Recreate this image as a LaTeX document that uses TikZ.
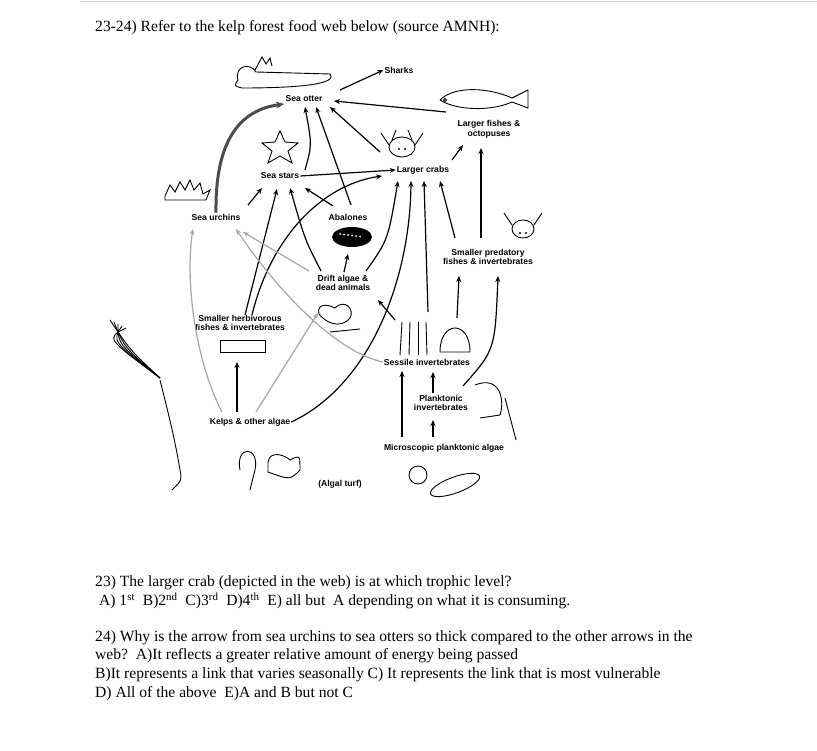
\documentclass[tikz,border=0pt]{standalone}
\usepackage{fontspec}
\setmainfont{Liberation Serif}
\newfontfamily\lab{Liberation Sans}
\usetikzlibrary{arrows.meta}
\begin{document}
\begin{tikzpicture}[x=1pt,y=-1pt,
 lbl/.style={font=\lab\bfseries\fontsize{8.6}{9.6}\selectfont,align=center,inner sep=1pt},
 q/.style={font=\fontsize{15.6}{18}\selectfont,anchor=west,inner sep=0pt},
 ar/.style={-{Stealth[length=6pt,width=5pt]},line width=1.2pt},
 gar/.style={ar,gray!70},
 ic/.style={line width=0.9pt}]
\useasboundingbox (0,0) rectangle (817,751);
\fill[white] (0,0) rectangle (817,751);
\draw[gray!40,line width=1pt] (80,1.5) -- (817,1.5);
\node[q] (t) at (95,28) {23-24) Refer to the kelp forest food web below (source AMNH):};
% labels
\node[lbl] (sh) at (399,70) {Sharks};
\node[lbl] (so) at (304,99) {Sea otter};
\node[lbl] (lf) at (489,129) {Larger fishes \&\\octopuses};
\node[lbl] (ss) at (280,176) {Sea stars};
\node[lbl] (lc) at (423,170) {Larger crabs};
\node[lbl] (su) at (216,217) {Sea urchins};
\node[lbl] (ab) at (348,217) {Abalones};
\node[lbl] (sp) at (488,257) {Smaller predatory\\fishes \& invertebrates};
\node[lbl] (da) at (343,283) {Drift algae \&\\dead animals};
\node[lbl] (sm) at (240,323) {Smaller herbivorous\\fishes \& invertebrates};
\node[lbl] (si) at (427,362) {Sessile invertebrates};
\node[lbl] (pi) at (441,403) {Planktonic\\invertebrates};
\node[lbl] (ke) at (250,422) {Kelps \& other algae};
\node[lbl] (mi) at (444,448) {Microscopic planktonic algae};
\node[lbl] (at) at (340,484) {(Algal turf)};
\coordinate (cr) at (380,152);
\coordinate (cr2) at (452,160);
% connectors
\draw[ar] (340,90) -- (sh.west);
\draw[ar] (446,112) -- (334,101);
\draw[ar] (cr) -- (330,107);
\draw[ar] (cr2) -- (463,145);
\draw[ar] (305,170) .. controls (312,145) .. (305,107);
\draw[ar] (351,205) -- (316,107);
\draw[-{Stealth[length=8pt,width=7pt]},line width=3pt,gray!60!black] (su.north) .. controls (215,140) and (240,110) .. (284,104);
\draw[ar] (ss.east) -- (lc.west);
\draw[ar] (248,205) -- (262,188);
\draw[ar] (333,206) -- (305,188);
\draw[ar] (321,271) .. controls (305,240) .. (290,188);
\draw[ar] (245,315) -- (277,189);
\draw[ar] (252,315) .. controls (270,240) and (320,185) .. (382,176);
\draw[ar] (344,272) -- (ab.south |- 0,254);
\draw[ar] (366,271) .. controls (388,240) .. (398,181);
\draw[ar] (ke.east) .. controls (370,385) and (410,280) .. (411,181);
\draw[ar] (428,312) -- (424,181);
\draw[ar] (455,238) -- (440,181);
\draw[ar] (481,238) -- (481,148);
\draw[ar] (457,318) -- (459,276);
\draw[ar] (463,386) .. controls (495,350) .. (498,276);
\draw[ar] (395,320) -- (378,300);
\draw[gar] (si.west) .. controls (330,350) and (270,280) .. (236,229);
\draw[gar] (309,271) -- (243,232);
\draw[gar] (222,412) .. controls (195,360) and (185,280) .. (193,229);
\draw[gar] (256,412) -- (318,313);
\draw[ar] (237,412) -- (237,362);
\draw[ar] (402,437) -- (402,371);
\draw[ar] (433,437) -- (433,420);
\draw[ar] (433,393) -- (433,372);
% sketches
\draw[ic] (238,80) .. controls (234,66) and (250,62) .. (256,72) -- (330,74) .. controls (338,84) and (300,88) .. (242,88) .. controls (234,86) .. (238,80);
\draw[ic] (255,70) -- (262,57) -- (266,64) -- (270,58) -- (272,66);
\draw[ic] (440,100) .. controls (455,85) and (490,88) .. (512,98) -- (528,90) -- (528,108) -- (512,102) .. controls (490,112) and (455,110) .. (440,100);
\draw[ic] (445,100) circle (1.5);
\draw[ic] (402,147) ellipse (13 and 10); \fill (399,149) circle (1.2) (405,149) circle (1.2);
\draw[ic] (389,145) -- (381,133) (415,145) -- (423,133) (392,140) -- (396,130) (412,140) -- (408,130);
\draw[ic] (523,229) ellipse (11 and 9); \fill (520,233) circle (1.1) (526,233) circle (1.1);
\draw[ic] (512,225) -- (504,213) (534,225) -- (542,213);
\draw[ic] (280,131) -- (285,142) -- (298,143) -- (288,151) -- (292,163) -- (280,156) -- (268,163) -- (272,151) -- (262,143) -- (275,142) -- cycle;
\draw[ic] (165,196) -- (170,185) -- (175,192) -- (180,182) -- (185,190) -- (190,180) -- (194,190) -- (200,183) -- (203,194) -- (210,190) -- (206,200) -- (165,200) -- cycle;
\fill (352,237) ellipse (20 and 10);
\foreach \i in {0,...,5} \fill[white] (340+\i*4,234+\i*0.5) circle (1);
\draw[ic] (319,314) .. controls (316,302) and (330,305) .. (335,308) .. controls (345,298) and (355,310) .. (350,318) .. controls (340,330) and (325,322) .. (319,314);
\draw[ic] (330,332) -- (360,329);
\draw[ic] (220,340) rectangle (265,352);
\draw[ic] (160,380) .. controls (170,420) and (175,440) .. (180,470) .. controls (182,480) .. (172,490);
\foreach \a in {0,10,20,30,40} \draw[ic] (160,378) .. controls (130-\a*0.6,350-\a*0.3) .. (110+\a*0.4,320+\a*0.2);
\draw[ic] (240,470) .. controls (235,445) and (260,445) .. (255,470) -- (250,490);
\draw[ic] (268,462) .. controls (270,450) and (285,455) .. (290,460) .. controls (300,455) .. (300,470) .. controls (290,480) .. (268,472) -- cycle;
\foreach \i in {0,...,3} \draw[ic] (400+\i*9,355) -- (402+\i*8,322);
\draw[ic] (440,352) .. controls (440,320) and (470,320) .. (470,352) -- cycle;
\draw[ic] (475,385) .. controls (500,375) and (505,400) .. (500,415) -- (480,418) (505,398) -- (516,440);
\draw[ic] (418,475) circle (9);
\draw[ic,rotate around={20:(455,485)}] (455,485) ellipse (26 and 8);
% questions
\node[q] (q1) at (95,583) {23) The larger crab (depicted in the web) is at which trophic level?};
\node[q] (q2) at (95,601) {\ A) 1\textsuperscript{st}\ \ B)2\textsuperscript{nd}\ \ C)3\textsuperscript{rd}\ \ D)4\textsuperscript{th}\ \ E) all but\ \ A depending on what it is consuming.};
\node[q] (q3) at (95,638) {24) Why is the arrow from sea urchins to sea otters so thick compared to the other arrows in the};
\node[q] (q4) at (95,656) {web?\ \ A)It reflects a greater relative amount of energy being passed};
\node[q] (q5) at (95,675) {B)It represents a link that varies seasonally C) It represents the link that is most vulnerable};
\node[q] (q6) at (95,694) {D) All of the above\ \ E)A and B but not C};
\end{tikzpicture}
\end{document}
